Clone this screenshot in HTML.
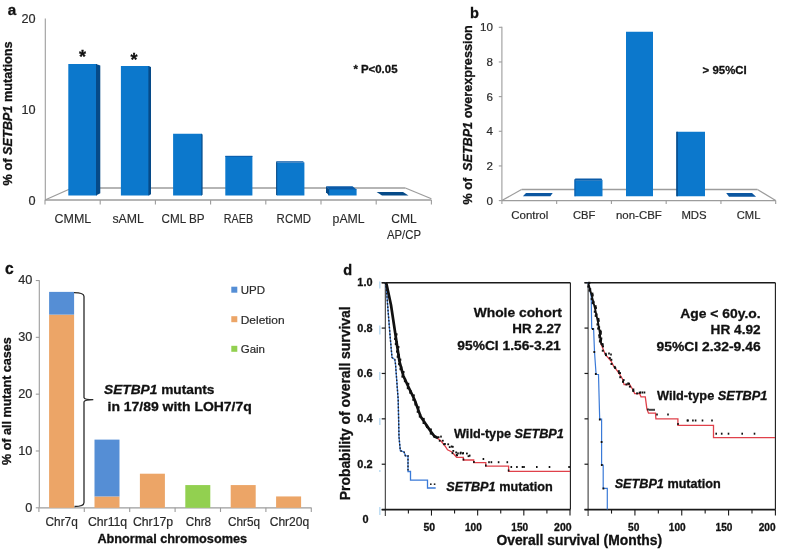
<!DOCTYPE html>
<html><head><meta charset="utf-8"><style>
html,body{margin:0;padding:0;background:#fff;}
svg{display:block;will-change:transform;font-family:"Liberation Sans",sans-serif;}
</style></head><body>
<svg width="785" height="551" viewBox="0 0 785 551">
<rect width="785" height="551" fill="#fff"/>
<text x="7.7" y="14.8" font-size="15.2" font-weight="bold" fill="#111" stroke="#111" stroke-width="0.3">a</text>
<line x1="45.3" y1="18.5" x2="45.3" y2="200" stroke="#9c9c9c" stroke-width="1.1"/>
<text x="35.7" y="23.1" font-size="12.7" text-anchor="end" fill="#2a2a2a" stroke="#2a2a2a" stroke-width="0.2">20</text>
<text x="35.5" y="113.8" font-size="12.7" text-anchor="end" fill="#2a2a2a" stroke="#2a2a2a" stroke-width="0.2">10</text>
<text x="35.5" y="204.5" font-size="12.7" text-anchor="end" fill="#2a2a2a" stroke="#2a2a2a" stroke-width="0.2">0</text>
<text x="11.8" y="185.4" font-size="12.7" font-weight="bold" fill="#111" stroke="#111" stroke-width="0.3" textLength="144" lengthAdjust="spacingAndGlyphs" transform="rotate(-90 11.8 185.4)">% of <tspan font-style="italic">SETBP1</tspan> mutations</text>
<line x1="45" y1="200" x2="431.4" y2="200" stroke="#9c9c9c" stroke-width="1.3"/>
<line x1="72" y1="188" x2="405.4" y2="188" stroke="#9c9c9c" stroke-width="1.3"/>
<line x1="45" y1="200" x2="72" y2="188" stroke="#9c9c9c" stroke-width="1.2"/>
<line x1="405.4" y1="188" x2="431.4" y2="198.8" stroke="#9c9c9c" stroke-width="1.2"/>
<line x1="45.0" y1="200" x2="45.0" y2="204.5" stroke="#9c9c9c" stroke-width="1.1"/>
<line x1="100.2" y1="200" x2="100.2" y2="204.5" stroke="#9c9c9c" stroke-width="1.1"/>
<line x1="155.4" y1="200" x2="155.4" y2="204.5" stroke="#9c9c9c" stroke-width="1.1"/>
<line x1="210.60000000000002" y1="200" x2="210.60000000000002" y2="204.5" stroke="#9c9c9c" stroke-width="1.1"/>
<line x1="265.8" y1="200" x2="265.8" y2="204.5" stroke="#9c9c9c" stroke-width="1.1"/>
<line x1="321.0" y1="200" x2="321.0" y2="204.5" stroke="#9c9c9c" stroke-width="1.1"/>
<line x1="376.20000000000005" y1="200" x2="376.20000000000005" y2="204.5" stroke="#9c9c9c" stroke-width="1.1"/>
<line x1="431.40000000000003" y1="200" x2="431.40000000000003" y2="204.5" stroke="#9c9c9c" stroke-width="1.1"/>
<polygon points="68.3,64 97,64 97,195.5 68.3,195.5" fill="#0c78cc"/>
<polygon points="96,64 100.3,65.6 100.3,193.2 96,195.5" fill="#064a88"/>
<polygon points="120.9,66 149.4,66 149.4,195.5 120.9,195.5" fill="#0c78cc"/>
<polygon points="148.4,66 151,67 151,194.2 148.4,195.5" fill="#064a88"/>
<polygon points="173.1,133.8 202,133.8 202,195.5 173.1,195.5" fill="#0c78cc"/>
<polygon points="201.4,133.8 202.6,134.4 202.6,194.8 201.4,195.5" fill="#064a88"/>
<polygon points="225.3,155.9 252.4,155.9 252.4,195.5 225.3,195.5" fill="#0c78cc"/>
<line x1="225.3" y1="156.3" x2="252.4" y2="156.3" stroke="#0a5aa8" stroke-width="1"/>
<polygon points="276.6,162.4 304.4,162.4 304.4,195.5 276.6,195.5" fill="#0c78cc"/>
<polygon points="276.1,161.2 303,161.2 304.4,162.6 277.2,162.6" fill="#0a5aa8"/>
<polygon points="276.1,161.2 277.2,162.4 277.2,195.5 276.1,194.3" fill="#064a88"/>
<polygon points="328.2,189 356.6,189 356.6,195.5 328.2,195.5" fill="#0c78cc"/>
<polygon points="326,186.3 352.5,186.3 356.6,189.6 329.2,189.6" fill="#0a5aa8"/>
<polygon points="326,186.3 329.2,189.5 329.2,195.5 326,192.3" fill="#064a88"/>
<polygon points="376.6,192 403,192 408.5,195.4 382,195.4" fill="#064a88"/>
<text x="82.5" y="62.5" font-size="18" font-weight="bold" text-anchor="middle" fill="#111" stroke="#111" stroke-width="0.3">*</text>
<text x="134" y="65.7" font-size="18" font-weight="bold" text-anchor="middle" fill="#111" stroke="#111" stroke-width="0.3">*</text>
<text x="353.4" y="72.7" font-size="11.4" font-weight="bold" textLength="44.1" lengthAdjust="spacingAndGlyphs" fill="#111" stroke="#111" stroke-width="0.3">* P&lt;0.05</text>
<text x="54.6" y="222.8" font-size="12.4" textLength="36.7" lengthAdjust="spacingAndGlyphs" fill="#2a2a2a" stroke="#2a2a2a" stroke-width="0.12">CMML</text>
<text x="112.4" y="222.8" font-size="12.4" textLength="31.4" lengthAdjust="spacingAndGlyphs" fill="#2a2a2a" stroke="#2a2a2a" stroke-width="0.12">sAML</text>
<text x="161.6" y="222.8" font-size="12.4" textLength="43.0" lengthAdjust="spacingAndGlyphs" fill="#2a2a2a" stroke="#2a2a2a" stroke-width="0.12">CML BP</text>
<text x="223.8" y="222.8" font-size="12.4" textLength="29.3" lengthAdjust="spacingAndGlyphs" fill="#2a2a2a" stroke="#2a2a2a" stroke-width="0.12">RAEB</text>
<text x="276.6" y="222.8" font-size="12.4" textLength="34.4" lengthAdjust="spacingAndGlyphs" fill="#2a2a2a" stroke="#2a2a2a" stroke-width="0.12">RCMD</text>
<text x="332.6" y="222.8" font-size="12.4" textLength="32.1" lengthAdjust="spacingAndGlyphs" fill="#2a2a2a" stroke="#2a2a2a" stroke-width="0.12">pAML</text>
<text x="391.2" y="222.8" font-size="12.4" textLength="25.5" lengthAdjust="spacingAndGlyphs" fill="#2a2a2a" stroke="#2a2a2a" stroke-width="0.12">CML</text>
<text x="386.9" y="239" font-size="12.4" textLength="34.1" lengthAdjust="spacingAndGlyphs" fill="#2a2a2a" stroke="#2a2a2a" stroke-width="0.12">AP/CP</text>
<text x="470" y="17.8" font-size="14.5" font-weight="bold" fill="#111" stroke="#111" stroke-width="0.3">b</text>
<line x1="501.9" y1="26.8" x2="501.9" y2="200.6" stroke="#9c9c9c" stroke-width="1.1"/>
<line x1="498.8" y1="200.6" x2="501.9" y2="200.6" stroke="#9c9c9c" stroke-width="1.1"/>
<text x="493" y="204.6" font-size="11.6" text-anchor="end" fill="#2a2a2a" stroke="#2a2a2a" stroke-width="0.2">0</text>
<line x1="498.8" y1="165.94" x2="501.9" y2="165.94" stroke="#9c9c9c" stroke-width="1.1"/>
<text x="493" y="169.94" font-size="11.6" text-anchor="end" fill="#2a2a2a" stroke="#2a2a2a" stroke-width="0.2">2</text>
<line x1="498.8" y1="131.28" x2="501.9" y2="131.28" stroke="#9c9c9c" stroke-width="1.1"/>
<text x="493" y="135.28" font-size="11.6" text-anchor="end" fill="#2a2a2a" stroke="#2a2a2a" stroke-width="0.2">4</text>
<line x1="498.8" y1="96.62" x2="501.9" y2="96.62" stroke="#9c9c9c" stroke-width="1.1"/>
<text x="493" y="100.62" font-size="11.6" text-anchor="end" fill="#2a2a2a" stroke="#2a2a2a" stroke-width="0.2">6</text>
<line x1="498.8" y1="61.96000000000001" x2="501.9" y2="61.96000000000001" stroke="#9c9c9c" stroke-width="1.1"/>
<text x="493" y="65.96000000000001" font-size="11.6" text-anchor="end" fill="#2a2a2a" stroke="#2a2a2a" stroke-width="0.2">8</text>
<line x1="498.8" y1="27.30000000000001" x2="501.9" y2="27.30000000000001" stroke="#9c9c9c" stroke-width="1.1"/>
<text x="493" y="31.30000000000001" font-size="11.6" text-anchor="end" fill="#2a2a2a" stroke="#2a2a2a" stroke-width="0.2">10</text>
<text x="472.3" y="204.5" font-size="12.6" font-weight="bold" fill="#111" stroke="#111" stroke-width="0.3" textLength="179.3" lengthAdjust="spacingAndGlyphs" transform="rotate(-90 472.3 204.5)">% of&#160; <tspan font-style="italic">SETBP1</tspan> overexpression</text>
<line x1="501.9" y1="200.6" x2="775.7" y2="200.6" stroke="#9c9c9c" stroke-width="1.3"/>
<line x1="521.5" y1="189.5" x2="757.5" y2="189.5" stroke="#9c9c9c" stroke-width="1.3"/>
<line x1="501.9" y1="200.6" x2="521.5" y2="189.5" stroke="#9c9c9c" stroke-width="1.2"/>
<line x1="757.5" y1="189.5" x2="775.7" y2="200.6" stroke="#9c9c9c" stroke-width="1.2"/>
<line x1="501.9" y1="200.6" x2="501.9" y2="204" stroke="#9c9c9c" stroke-width="1.1"/>
<line x1="556.66" y1="200.6" x2="556.66" y2="204" stroke="#9c9c9c" stroke-width="1.1"/>
<line x1="611.42" y1="200.6" x2="611.42" y2="204" stroke="#9c9c9c" stroke-width="1.1"/>
<line x1="666.18" y1="200.6" x2="666.18" y2="204" stroke="#9c9c9c" stroke-width="1.1"/>
<line x1="720.9399999999999" y1="200.6" x2="720.9399999999999" y2="204" stroke="#9c9c9c" stroke-width="1.1"/>
<line x1="775.7" y1="200.6" x2="775.7" y2="204" stroke="#9c9c9c" stroke-width="1.1"/>
<polygon points="526,192.9 552.7,192.9 550.4,196.3 522.9,196.3" fill="#0b56a0"/>
<polygon points="574.5,180.3 602.5,180.3 602.5,196.3 574.5,196.3" fill="#0c78cc"/>
<polygon points="575.5,178.6 601.5,178.6 602.5,180.5 574.5,180.5" fill="#0a5aa8"/>
<polygon points="574.5,179.6 575.5,178.6 575.5,196.3 574.5,196.3" fill="#0a5aa8"/>
<polygon points="626,31.8 653,31.8 653,196.2 626,196.2" fill="#0c78cc"/>
<polygon points="676.7,131.8 705,131.8 705,196.2 676.7,196.2" fill="#0c78cc"/>
<polygon points="676.2,131.8 677.8,131.8 677.8,196.2 676.2,196.2" fill="#064a88"/>
<polygon points="726.2,193.1 752,193.1 756.1,196.7 729,196.7" fill="#0b56a0"/>
<text x="511.3" y="219.2" font-size="11.6" textLength="37.0" lengthAdjust="spacingAndGlyphs" fill="#2a2a2a" stroke="#2a2a2a" stroke-width="0.2">Control</text>
<text x="573" y="219.2" font-size="11.6" textLength="22.4" lengthAdjust="spacingAndGlyphs" fill="#2a2a2a" stroke="#2a2a2a" stroke-width="0.2">CBF</text>
<text x="616" y="219.2" font-size="11.6" textLength="45.8" lengthAdjust="spacingAndGlyphs" fill="#2a2a2a" stroke="#2a2a2a" stroke-width="0.2">non-CBF</text>
<text x="681.4" y="219.2" font-size="11.6" textLength="25.2" lengthAdjust="spacingAndGlyphs" fill="#2a2a2a" stroke="#2a2a2a" stroke-width="0.2">MDS</text>
<text x="736.8" y="219.2" font-size="11.6" textLength="23.6" lengthAdjust="spacingAndGlyphs" fill="#2a2a2a" stroke="#2a2a2a" stroke-width="0.2">CML</text>
<text x="702.6" y="74.3" font-size="11.6" font-weight="bold" textLength="44.1" lengthAdjust="spacingAndGlyphs" fill="#111" stroke="#111" stroke-width="0.3">&gt; 95%CI</text>
<text x="5.1" y="274" font-size="15.6" font-weight="bold" fill="#111" stroke="#111" stroke-width="0.3">c</text>
<line x1="39.3" y1="280.3" x2="39.3" y2="507.8" stroke="#9c9c9c" stroke-width="1.1"/>
<line x1="35.8" y1="507.8" x2="39.3" y2="507.8" stroke="#9c9c9c" stroke-width="1.1"/>
<text x="32.3" y="511.5" font-size="12.7" text-anchor="end" fill="#2a2a2a" stroke="#2a2a2a" stroke-width="0.2">0</text>
<line x1="35.8" y1="450.98" x2="39.3" y2="450.98" stroke="#9c9c9c" stroke-width="1.1"/>
<text x="32.3" y="454.68" font-size="12.7" text-anchor="end" fill="#2a2a2a" stroke="#2a2a2a" stroke-width="0.2">10</text>
<line x1="35.8" y1="394.15999999999997" x2="39.3" y2="394.15999999999997" stroke="#9c9c9c" stroke-width="1.1"/>
<text x="32.3" y="397.85999999999996" font-size="12.7" text-anchor="end" fill="#2a2a2a" stroke="#2a2a2a" stroke-width="0.2">20</text>
<line x1="35.8" y1="337.34000000000003" x2="39.3" y2="337.34000000000003" stroke="#9c9c9c" stroke-width="1.1"/>
<text x="32.3" y="341.04" font-size="12.7" text-anchor="end" fill="#2a2a2a" stroke="#2a2a2a" stroke-width="0.2">30</text>
<line x1="35.8" y1="280.52" x2="39.3" y2="280.52" stroke="#9c9c9c" stroke-width="1.1"/>
<text x="32.3" y="284.21999999999997" font-size="12.7" text-anchor="end" fill="#2a2a2a" stroke="#2a2a2a" stroke-width="0.2">40</text>
<line x1="39.3" y1="507.8" x2="311.5" y2="507.8" stroke="#9c9c9c" stroke-width="1.2"/>
<line x1="38.9" y1="507.8" x2="38.9" y2="512" stroke="#9c9c9c" stroke-width="1.1"/>
<line x1="84.3" y1="507.8" x2="84.3" y2="512" stroke="#9c9c9c" stroke-width="1.1"/>
<line x1="129.7" y1="507.8" x2="129.7" y2="512" stroke="#9c9c9c" stroke-width="1.1"/>
<line x1="175.1" y1="507.8" x2="175.1" y2="512" stroke="#9c9c9c" stroke-width="1.1"/>
<line x1="220.5" y1="507.8" x2="220.5" y2="512" stroke="#9c9c9c" stroke-width="1.1"/>
<line x1="265.9" y1="507.8" x2="265.9" y2="512" stroke="#9c9c9c" stroke-width="1.1"/>
<line x1="311.29999999999995" y1="507.8" x2="311.29999999999995" y2="512" stroke="#9c9c9c" stroke-width="1.1"/>
<rect x="49.099999999999994" y="314.61199999999997" width="25" height="193.18800000000002" fill="#eca567"/>
<rect x="49.099999999999994" y="291.884" width="25" height="22.728" fill="#558ed5"/>
<rect x="94.5" y="496.43600000000004" width="25" height="11.364" fill="#eca567"/>
<rect x="94.5" y="439.616" width="25" height="56.82000000000001" fill="#558ed5"/>
<rect x="139.9" y="473.708" width="25" height="34.092" fill="#eca567"/>
<rect x="185.3" y="485.072" width="25" height="22.728" fill="#92d050"/>
<rect x="230.7" y="485.072" width="25" height="22.728" fill="#eca567"/>
<rect x="276.09999999999997" y="496.43600000000004" width="25" height="11.364" fill="#eca567"/>
<text x="11.3" y="465" font-size="12.6" font-weight="bold" fill="#111" stroke="#111" stroke-width="0.3" textLength="127.8" lengthAdjust="spacingAndGlyphs" transform="rotate(-90 11.3 465)">% of all mutant cases</text>
<text x="45.5" y="526" font-size="12" textLength="32.3" lengthAdjust="spacingAndGlyphs" fill="#2a2a2a" stroke="#2a2a2a" stroke-width="0.2">Chr7q</text>
<text x="87.9" y="526" font-size="12" textLength="39.3" lengthAdjust="spacingAndGlyphs" fill="#2a2a2a" stroke="#2a2a2a" stroke-width="0.2">Chr11q</text>
<text x="132.9" y="526" font-size="12" textLength="40.2" lengthAdjust="spacingAndGlyphs" fill="#2a2a2a" stroke="#2a2a2a" stroke-width="0.2">Chr17p</text>
<text x="185.7" y="526" font-size="12" textLength="25.4" lengthAdjust="spacingAndGlyphs" fill="#2a2a2a" stroke="#2a2a2a" stroke-width="0.2">Chr8</text>
<text x="228" y="526" font-size="12" textLength="32" lengthAdjust="spacingAndGlyphs" fill="#2a2a2a" stroke="#2a2a2a" stroke-width="0.2">Chr5q</text>
<text x="269.7" y="526" font-size="12" textLength="39.5" lengthAdjust="spacingAndGlyphs" fill="#2a2a2a" stroke="#2a2a2a" stroke-width="0.2">Chr20q</text>
<text x="97.4" y="543.4" font-size="12.9" font-weight="bold" textLength="149.7" lengthAdjust="spacingAndGlyphs" fill="#111" stroke="#111" stroke-width="0.3">Abnormal chromosomes</text>
<rect x="231.3" y="286.7" width="6" height="6" fill="#558ed5"/>
<rect x="231.3" y="316.2" width="6" height="6" fill="#eca567"/>
<rect x="231.3" y="345.8" width="6" height="6" fill="#92d050"/>
<text x="240.7" y="293.9" font-size="11.8" textLength="24.3" lengthAdjust="spacingAndGlyphs" fill="#2a2a2a" stroke="#2a2a2a" stroke-width="0.2">UPD</text>
<text x="240.7" y="323.6" font-size="11.8" textLength="43.9" lengthAdjust="spacingAndGlyphs" fill="#2a2a2a" stroke="#2a2a2a" stroke-width="0.2">Deletion</text>
<text x="240.7" y="353.3" font-size="11.8" textLength="24.3" lengthAdjust="spacingAndGlyphs" fill="#2a2a2a" stroke="#2a2a2a" stroke-width="0.2">Gain</text>
<path d="M74,292.6 Q84,292.6 84,296.5 L84,397.6 Q84.5,399.7 93.3,399.7 Q84.5,399.7 84,401.8 L84,502.5 Q84,506.5 74.5,506.5" fill="none" stroke="#2a2a2a" stroke-width="1.3"/>
<text x="104" y="394" font-size="13" font-weight="bold" fill="#111" stroke="#111" stroke-width="0.3" textLength="110.5" lengthAdjust="spacingAndGlyphs"><tspan font-style="italic">SETBP1</tspan> mutants</text>
<text x="107.5" y="410.8" font-size="13" font-weight="bold" textLength="144.3" lengthAdjust="spacingAndGlyphs" fill="#111" stroke="#111" stroke-width="0.3">in 17/89 with LOH7/7q</text>
<text x="343.2" y="274.9" font-size="14.5" font-weight="bold" fill="#111" stroke="#111" stroke-width="0.3">d</text>
<text x="349.8" y="500.3" font-size="13.9" font-weight="bold" fill="#111" stroke="#111" stroke-width="0.3" textLength="194" lengthAdjust="spacingAndGlyphs" transform="rotate(-90 349.8 500.3)">Probability of overall survival</text>
<text x="372.5" y="467.82000000000005" font-size="10.9" font-weight="bold" text-anchor="end" fill="#111" stroke="#111" stroke-width="0.3">0.2</text>
<text x="372.5" y="422.44000000000005" font-size="10.9" font-weight="bold" text-anchor="end" fill="#111" stroke="#111" stroke-width="0.3">0.4</text>
<text x="372.5" y="377.06000000000006" font-size="10.9" font-weight="bold" text-anchor="end" fill="#111" stroke="#111" stroke-width="0.3">0.6</text>
<text x="372.5" y="331.68000000000006" font-size="10.9" font-weight="bold" text-anchor="end" fill="#111" stroke="#111" stroke-width="0.3">0.8</text>
<text x="372.5" y="286.30000000000007" font-size="10.9" font-weight="bold" text-anchor="end" fill="#111" stroke="#111" stroke-width="0.3">1.0</text>
<text x="362.4" y="522.7" font-size="10.9" font-weight="bold" fill="#111" stroke="#111" stroke-width="0.3">0</text>
<line x1="385.3" y1="282.7" x2="385.3" y2="516" stroke="#2a2a2a" stroke-width="1"/>
<line x1="381.7" y1="282.7" x2="570.4" y2="282.7" stroke="#1a1a1a" stroke-width="1.4"/>
<line x1="570.4" y1="282.7" x2="570.4" y2="509.6" stroke="#1a1a1a" stroke-width="1.1"/>
<line x1="381.7" y1="509.6" x2="570.4" y2="509.6" stroke="#1a1a1a" stroke-width="1.7"/>
<line x1="381.7" y1="509.6" x2="385.3" y2="509.6" stroke="#1a1a1a" stroke-width="1.2"/>
<line x1="381.7" y1="464.22" x2="385.3" y2="464.22" stroke="#1a1a1a" stroke-width="1.2"/>
<line x1="381.7" y1="418.84000000000003" x2="385.3" y2="418.84000000000003" stroke="#1a1a1a" stroke-width="1.2"/>
<line x1="381.7" y1="373.46000000000004" x2="385.3" y2="373.46000000000004" stroke="#1a1a1a" stroke-width="1.2"/>
<line x1="381.7" y1="328.08000000000004" x2="385.3" y2="328.08000000000004" stroke="#1a1a1a" stroke-width="1.2"/>
<line x1="381.7" y1="282.70000000000005" x2="385.3" y2="282.70000000000005" stroke="#1a1a1a" stroke-width="1.2"/>
<line x1="408.3875" y1="509.6" x2="408.3875" y2="513.6" stroke="#1a1a1a" stroke-width="1.1"/>
<line x1="431.475" y1="509.6" x2="431.475" y2="515.6" stroke="#1a1a1a" stroke-width="1.1"/>
<line x1="454.5625" y1="509.6" x2="454.5625" y2="513.6" stroke="#1a1a1a" stroke-width="1.1"/>
<line x1="477.65" y1="509.6" x2="477.65" y2="515.6" stroke="#1a1a1a" stroke-width="1.1"/>
<line x1="500.7375" y1="509.6" x2="500.7375" y2="513.6" stroke="#1a1a1a" stroke-width="1.1"/>
<line x1="523.825" y1="509.6" x2="523.825" y2="515.6" stroke="#1a1a1a" stroke-width="1.1"/>
<line x1="546.9125" y1="509.6" x2="546.9125" y2="513.6" stroke="#1a1a1a" stroke-width="1.1"/>
<line x1="570.0" y1="509.6" x2="570.0" y2="515.6" stroke="#1a1a1a" stroke-width="1.1"/>
<line x1="588.1" y1="282.7" x2="588.1" y2="516" stroke="#2a2a2a" stroke-width="1"/>
<line x1="584.5" y1="282.7" x2="775.4" y2="282.7" stroke="#1a1a1a" stroke-width="1.4"/>
<line x1="775.4" y1="282.7" x2="775.4" y2="509.6" stroke="#1a1a1a" stroke-width="1.1"/>
<line x1="584.5" y1="509.6" x2="775.4" y2="509.6" stroke="#1a1a1a" stroke-width="1.7"/>
<line x1="584.5" y1="509.6" x2="588.1" y2="509.6" stroke="#1a1a1a" stroke-width="1.2"/>
<line x1="584.5" y1="464.22" x2="588.1" y2="464.22" stroke="#1a1a1a" stroke-width="1.2"/>
<line x1="584.5" y1="418.84000000000003" x2="588.1" y2="418.84000000000003" stroke="#1a1a1a" stroke-width="1.2"/>
<line x1="584.5" y1="373.46000000000004" x2="588.1" y2="373.46000000000004" stroke="#1a1a1a" stroke-width="1.2"/>
<line x1="584.5" y1="328.08000000000004" x2="588.1" y2="328.08000000000004" stroke="#1a1a1a" stroke-width="1.2"/>
<line x1="584.5" y1="282.70000000000005" x2="588.1" y2="282.70000000000005" stroke="#1a1a1a" stroke-width="1.2"/>
<line x1="611.5125" y1="509.6" x2="611.5125" y2="513.6" stroke="#1a1a1a" stroke-width="1.1"/>
<line x1="634.9250000000001" y1="509.6" x2="634.9250000000001" y2="515.6" stroke="#1a1a1a" stroke-width="1.1"/>
<line x1="658.3375" y1="509.6" x2="658.3375" y2="513.6" stroke="#1a1a1a" stroke-width="1.1"/>
<line x1="681.75" y1="509.6" x2="681.75" y2="515.6" stroke="#1a1a1a" stroke-width="1.1"/>
<line x1="705.1625" y1="509.6" x2="705.1625" y2="513.6" stroke="#1a1a1a" stroke-width="1.1"/>
<line x1="728.575" y1="509.6" x2="728.575" y2="515.6" stroke="#1a1a1a" stroke-width="1.1"/>
<line x1="751.9875" y1="509.6" x2="751.9875" y2="513.6" stroke="#1a1a1a" stroke-width="1.1"/>
<line x1="775.4000000000001" y1="509.6" x2="775.4000000000001" y2="515.6" stroke="#1a1a1a" stroke-width="1.1"/>
<text x="423.4" y="530.9" font-size="10.4" font-weight="bold" textLength="11.6" lengthAdjust="spacingAndGlyphs" fill="#111" stroke="#111" stroke-width="0.3">50</text>
<text x="465" y="530.9" font-size="10.4" font-weight="bold" textLength="16.8" lengthAdjust="spacingAndGlyphs" fill="#111" stroke="#111" stroke-width="0.3">100</text>
<text x="511.3" y="530.9" font-size="10.4" font-weight="bold" textLength="16.8" lengthAdjust="spacingAndGlyphs" fill="#111" stroke="#111" stroke-width="0.3">150</text>
<text x="554.1" y="530.9" font-size="10.4" font-weight="bold" textLength="17.5" lengthAdjust="spacingAndGlyphs" fill="#111" stroke="#111" stroke-width="0.3">200</text>
<text x="628" y="530.9" font-size="10.4" font-weight="bold" textLength="11.3" lengthAdjust="spacingAndGlyphs" fill="#111" stroke="#111" stroke-width="0.3">50</text>
<text x="668.8" y="530.9" font-size="10.4" font-weight="bold" textLength="16.8" lengthAdjust="spacingAndGlyphs" fill="#111" stroke="#111" stroke-width="0.3">100</text>
<text x="715.6" y="530.9" font-size="10.4" font-weight="bold" textLength="16.8" lengthAdjust="spacingAndGlyphs" fill="#111" stroke="#111" stroke-width="0.3">150</text>
<text x="758.7" y="530.9" font-size="10.4" font-weight="bold" textLength="16.8" lengthAdjust="spacingAndGlyphs" fill="#111" stroke="#111" stroke-width="0.3">200</text>
<text x="496.4" y="545.3" font-size="13.9" font-weight="bold" textLength="165.8" lengthAdjust="spacingAndGlyphs" fill="#111" stroke="#111" stroke-width="0.3">Overall survival (Months)</text>
<text x="473.7" y="316.6" font-size="13.7" font-weight="bold" textLength="88.3" lengthAdjust="spacingAndGlyphs" fill="#111" stroke="#111" stroke-width="0.3">Whole cohort</text>
<text x="512.3" y="333.3" font-size="13.7" font-weight="bold" textLength="49" lengthAdjust="spacingAndGlyphs" fill="#111" stroke="#111" stroke-width="0.3">HR 2.27</text>
<text x="457.3" y="350.1" font-size="13.7" font-weight="bold" textLength="103.5" lengthAdjust="spacingAndGlyphs" fill="#111" stroke="#111" stroke-width="0.3">95%CI 1.56-3.21</text>
<text x="680.3" y="318" font-size="13.7" font-weight="bold" textLength="80.3" lengthAdjust="spacingAndGlyphs" fill="#111" stroke="#111" stroke-width="0.3">Age &lt; 60y.o.</text>
<text x="710.6" y="334" font-size="13.7" font-weight="bold" textLength="50" lengthAdjust="spacingAndGlyphs" fill="#111" stroke="#111" stroke-width="0.3">HR 4.92</text>
<text x="656.5" y="350.8" font-size="13.7" font-weight="bold" textLength="104.1" lengthAdjust="spacingAndGlyphs" fill="#111" stroke="#111" stroke-width="0.3">95%CI 2.32-9.46</text>
<text x="454" y="437.5" font-size="12.7" font-weight="bold" fill="#111" stroke="#111" stroke-width="0.3" textLength="109.9" lengthAdjust="spacingAndGlyphs">Wild-type <tspan font-style="italic">SETBP1</tspan></text>
<text x="446.3" y="491" font-size="12.7" font-weight="bold" fill="#111" stroke="#111" stroke-width="0.3" textLength="106.4" lengthAdjust="spacingAndGlyphs"><tspan font-style="italic">SETBP1</tspan> mutation</text>
<text x="657" y="400.2" font-size="12.7" font-weight="bold" fill="#111" stroke="#111" stroke-width="0.3" textLength="110.4" lengthAdjust="spacingAndGlyphs">Wild-type <tspan font-style="italic">SETBP1</tspan></text>
<text x="614.7" y="487.7" font-size="12.7" font-weight="bold" fill="#111" stroke="#111" stroke-width="0.3" textLength="106.1" lengthAdjust="spacingAndGlyphs"><tspan font-style="italic">SETBP1</tspan> mutation</text>
<polyline points="385.5,282.7 386.5,290 388,310 390,335 392,357.5 394.8,359.5 395.5,364 398.2,400 399,436.7 400.3,450.7 404.1,452 405.4,455.8 408,455.8 408,471.5 410.5,471.5 410.5,480.2 427.5,480.2 427.5,488 435.7,488" fill="none" stroke="#3a7ad8" stroke-width="1.3"/>
<polyline points="385.5,282.7 386.5,290 388,310 390,335 392,357.5 394.8,359.5 395.5,364 398.2,400 399,436.7 400.3,450.7 404.1,452 405.4,455.8 408,455.8 408,471.5" fill="none" stroke="#222" stroke-width="1.4" stroke-dasharray="1.6,1.8"/>
<rect x="430" y="483.4" width="1.6" height="1.6" fill="#222"/><rect x="433.8" y="483.4" width="1.6" height="1.6" fill="#222"/>
<polyline points="436,437 441,441 445,446 447.5,449.8 452,452 456.6,457.3 463.3,457.3 463.3,460 473.7,460 473.7,462.6 485.8,462.6 485.8,466.2 508.6,466.2 508.6,471.4 570,471.4" fill="none" stroke="#e0404a" stroke-width="1.3"/>
<polyline points="385.5,282.7 386.5,284 391,305 395.5,335 399.5,361.7 403.3,375.7 408,386 414.7,400 420.6,416.4 425.7,424 430.8,431.6 434.6,436.5 438,438" fill="none" stroke="#111" stroke-width="2.7" stroke-linejoin="round"/>
<rect x="395.3" y="333.3" width="2.2" height="2.2" fill="#111"/>
<rect x="394.1" y="337.8" width="2.2" height="2.2" fill="#111"/>
<rect x="395.7" y="341.2" width="2.2" height="2.2" fill="#111"/>
<rect x="394.8" y="342.9" width="2.2" height="2.2" fill="#111"/>
<rect x="397.2" y="346.0" width="2.2" height="2.2" fill="#111"/>
<rect x="396.0" y="350.4" width="2.2" height="2.2" fill="#111"/>
<rect x="397.6" y="353.9" width="2.2" height="2.2" fill="#111"/>
<rect x="396.7" y="355.6" width="2.2" height="2.2" fill="#111"/>
<rect x="399.1" y="358.6" width="2.2" height="2.2" fill="#111"/>
<rect x="398.1" y="363.0" width="2.2" height="2.2" fill="#111"/>
<rect x="400.1" y="366.4" width="2.2" height="2.2" fill="#111"/>
<rect x="399.5" y="368.0" width="2.2" height="2.2" fill="#111"/>
<rect x="402.3" y="371.0" width="2.2" height="2.2" fill="#111"/>
<rect x="401.4" y="375.4" width="2.2" height="2.2" fill="#111"/>
<rect x="404.0" y="378.6" width="2.2" height="2.2" fill="#111"/>
<rect x="403.9" y="380.0" width="2.2" height="2.2" fill="#111"/>
<rect x="407.1" y="382.8" width="2.2" height="2.2" fill="#111"/>
<rect x="406.8" y="387.0" width="2.2" height="2.2" fill="#111"/>
<rect x="409.4" y="390.2" width="2.2" height="2.2" fill="#111"/>
<rect x="409.3" y="391.6" width="2.2" height="2.2" fill="#111"/>
<rect x="412.6" y="394.4" width="2.2" height="2.2" fill="#111"/>
<rect x="412.3" y="398.6" width="2.2" height="2.2" fill="#111"/>
<rect x="414.7" y="401.8" width="2.2" height="2.2" fill="#111"/>
<rect x="414.4" y="403.3" width="2.2" height="2.2" fill="#111"/>
<rect x="417.4" y="406.3" width="2.2" height="2.2" fill="#111"/>
<rect x="416.7" y="410.6" width="2.2" height="2.2" fill="#111"/>
<rect x="419.0" y="413.9" width="2.2" height="2.2" fill="#111"/>
<rect x="418.8" y="415.3" width="2.2" height="2.2" fill="#111"/>
<rect x="422.5" y="417.9" width="2.2" height="2.2" fill="#111"/>
<rect x="422.6" y="421.8" width="2.2" height="2.2" fill="#111"/>
<rect x="425.6" y="424.8" width="2.2" height="2.2" fill="#111"/>
<rect x="426.0" y="425.9" width="2.2" height="2.2" fill="#111"/>
<rect x="429.7" y="428.5" width="2.2" height="2.2" fill="#111"/>
<rect x="429.8" y="432.4" width="2.2" height="2.2" fill="#111"/>
<rect x="433.0" y="435.2" width="2.2" height="2.2" fill="#111"/>
<rect x="434.1" y="435.6" width="2.2" height="2.2" fill="#111"/>
<rect x="437.7" y="436.3" width="1.8" height="1.8" fill="#111"/>
<rect x="438.8" y="439.9" width="1.8" height="1.8" fill="#111"/>
<rect x="441.9" y="439.8" width="1.8" height="1.8" fill="#111"/>
<rect x="443.1" y="443.3" width="1.8" height="1.8" fill="#111"/>
<rect x="447.3" y="443.4" width="1.8" height="1.8" fill="#111"/>
<rect x="448.8" y="446.2" width="1.8" height="1.8" fill="#111"/>
<rect x="451.9" y="445.9" width="1.8" height="1.8" fill="#111"/>
<rect x="452.4" y="450.0" width="1.8" height="1.8" fill="#111"/>
<rect x="455.3" y="451.5" width="1.8" height="1.8" fill="#111"/>
<rect x="456.2" y="454.4" width="1.8" height="1.8" fill="#111"/>
<rect x="459.9" y="451.7" width="1.8" height="1.8" fill="#111"/>
<rect x="461.8" y="452.6" width="1.8" height="1.8" fill="#111"/>
<rect x="466.0" y="452.6" width="1.8" height="1.8" fill="#111"/>
<rect x="467.6" y="455.3" width="1.8" height="1.8" fill="#111"/>
<rect x="440.2" y="435.6" width="1.6" height="2" fill="#111"/>
<rect x="444.2" y="443" width="1.6" height="2" fill="#111"/>
<rect x="450.8" y="445.5" width="1.6" height="2" fill="#111"/>
<rect x="451.6" y="452.1" width="1.6" height="2" fill="#111"/>
<rect x="455.8" y="453.8" width="1.6" height="2" fill="#111"/>
<rect x="457.2" y="452.4" width="1.6" height="2" fill="#111"/>
<rect x="459.6" y="452.4" width="1.6" height="2" fill="#111"/>
<rect x="462.4" y="452.1" width="1.6" height="2" fill="#111"/>
<rect x="468.9" y="454.6" width="1.6" height="2" fill="#111"/>
<rect x="462.7" y="458.5" width="1.6" height="2" fill="#111"/>
<rect x="473.1" y="461" width="1.6" height="2" fill="#111"/>
<rect x="482.6" y="458" width="1.6" height="2" fill="#111"/>
<rect x="485.0" y="464.5" width="1.6" height="2" fill="#111"/>
<rect x="488.2" y="461.2" width="1.6" height="2" fill="#111"/>
<rect x="490.6" y="461.2" width="1.6" height="2" fill="#111"/>
<rect x="497.8" y="461.2" width="1.6" height="2" fill="#111"/>
<rect x="506.5" y="461.2" width="1.6" height="2" fill="#111"/>
<rect x="507.8" y="469.5" width="1.6" height="2" fill="#111"/>
<rect x="510.5" y="466" width="1.6" height="2" fill="#111"/>
<rect x="516.1" y="466" width="1.6" height="2" fill="#111"/>
<rect x="521.7" y="466" width="1.6" height="2" fill="#111"/>
<rect x="523.2" y="466" width="1.6" height="2" fill="#111"/>
<rect x="536.0" y="466" width="1.6" height="2" fill="#111"/>
<rect x="548.7" y="466" width="1.6" height="2" fill="#111"/>
<rect x="568.3" y="466" width="1.6" height="2" fill="#111"/>
<polyline points="588.1,282.7 591.2,296 591.7,328.5 593.6,328.5 594.5,352 596.1,374.5 598.5,374.5 599.7,419.2 601.6,419.2 601.6,465 603.2,465 603.2,488.3 607.3,488.3 607.3,509.6" fill="none" stroke="#3a7ad8" stroke-width="1.2"/>
<rect x="591.9" y="328" width="1.8" height="2" fill="#111"/>
<rect x="593.4" y="351" width="1.8" height="2" fill="#111"/>
<rect x="594.9" y="373" width="1.8" height="2" fill="#111"/>
<rect x="598.9" y="418.5" width="1.8" height="2" fill="#111"/>
<rect x="600.7" y="441" width="1.8" height="2" fill="#111"/>
<rect x="600.9" y="464" width="1.8" height="2" fill="#111"/>
<rect x="602.5" y="487.5" width="1.8" height="2" fill="#111"/>
<polyline points="599.6,331.6 601.3,344.7 605.3,354.5 611,361 613.5,365.9 618.4,372.4 622.5,378.9 624.1,384.6 629.8,384.6 632.3,388.7 634.7,393.6 639.6,393.6 641,396.8 645.3,396.8 646.9,409.1 648.5,413.2 655.5,413.2 655.9,418.9 677.9,418.9 677.9,425.4 713.5,425.4 713.5,437.7 775,437.7" fill="none" stroke="#e0404a" stroke-width="1.3"/>
<polyline points="588.4,283.4 591.7,295.4 595,308.5 598.3,323.8 599.6,331.6 601.3,344.7" fill="none" stroke="#111" stroke-width="1.8" stroke-linejoin="round"/>
<rect x="588.1" y="281.8" width="2.2" height="2.2" fill="#111"/>
<rect x="587.3" y="285.4" width="2.2" height="2.2" fill="#111"/>
<rect x="589.0" y="288.2" width="2.2" height="2.2" fill="#111"/>
<rect x="588.5" y="289.4" width="2.2" height="2.2" fill="#111"/>
<rect x="591.2" y="292.6" width="2.2" height="2.2" fill="#111"/>
<rect x="591.5" y="294.3" width="2.2" height="2.2" fill="#111"/>
<rect x="590.7" y="298.0" width="2.2" height="2.2" fill="#111"/>
<rect x="592.3" y="300.8" width="2.2" height="2.2" fill="#111"/>
<rect x="591.7" y="302.0" width="2.2" height="2.2" fill="#111"/>
<rect x="594.4" y="305.2" width="2.2" height="2.2" fill="#111"/>
<rect x="594.7" y="306.9" width="2.2" height="2.2" fill="#111"/>
<rect x="593.8" y="310.6" width="2.2" height="2.2" fill="#111"/>
<rect x="595.3" y="313.4" width="2.2" height="2.2" fill="#111"/>
<rect x="594.7" y="314.7" width="2.2" height="2.2" fill="#111"/>
<rect x="597.2" y="317.9" width="2.2" height="2.2" fill="#111"/>
<rect x="597.5" y="319.7" width="2.2" height="2.2" fill="#111"/>
<rect x="596.5" y="323.3" width="2.2" height="2.2" fill="#111"/>
<rect x="597.9" y="326.2" width="2.2" height="2.2" fill="#111"/>
<rect x="597.2" y="327.4" width="2.2" height="2.2" fill="#111"/>
<rect x="599.6" y="330.7" width="2.2" height="2.2" fill="#111"/>
<rect x="599.6" y="332.5" width="2.2" height="2.2" fill="#111"/>
<rect x="598.5" y="336.1" width="2.2" height="2.2" fill="#111"/>
<rect x="599.8" y="339.0" width="2.2" height="2.2" fill="#111"/>
<rect x="598.9" y="340.3" width="2.2" height="2.2" fill="#111"/>
<rect x="601.3" y="343.6" width="2.2" height="2.2" fill="#111"/>
<rect x="599.2" y="329.7" width="2" height="2" fill="#111"/>
<rect x="598.2" y="334.3" width="2" height="2" fill="#111"/>
<rect x="600.3" y="337.5" width="2" height="2" fill="#111"/>
<rect x="599.3" y="339.3" width="2" height="2" fill="#111"/>
<rect x="601.4" y="343.1" width="2" height="2" fill="#111"/>
<rect x="602.0" y="345.4" width="2" height="2" fill="#111"/>
<rect x="601.8" y="349.7" width="2" height="2" fill="#111"/>
<rect x="604.7" y="352.8" width="2" height="2" fill="#111"/>
<rect x="605.0" y="354.1" width="2" height="2" fill="#111"/>
<rect x="608.8" y="357.1" width="2" height="2" fill="#111"/>
<rect x="610.3" y="358.8" width="2" height="2" fill="#111"/>
<rect x="610.5" y="363.0" width="2" height="2" fill="#111"/>
<rect x="613.7" y="365.9" width="2" height="2" fill="#111"/>
<rect x="614.2" y="367.0" width="2" height="2" fill="#111"/>
<rect x="617.8" y="370.2" width="2" height="2" fill="#111"/>
<rect x="619.0" y="372.1" width="2" height="2" fill="#111"/>
<rect x="619.3" y="376.2" width="2" height="2" fill="#111"/>
<rect x="622.6" y="379.1" width="2" height="2" fill="#111"/>
<rect x="622.0" y="380.8" width="2" height="2" fill="#111"/>
<rect x="625.4" y="383.4" width="2" height="2" fill="#111"/>
<rect x="628.0" y="382.7" width="2" height="2" fill="#111"/>
<rect x="628.9" y="385.6" width="2" height="2" fill="#111"/>
<rect x="632.3" y="388.5" width="2" height="2" fill="#111"/>
<rect x="632.3" y="390.0" width="2" height="2" fill="#111"/>
<rect x="636.1" y="392.4" width="2" height="2" fill="#111"/>
<rect x="638.7" y="391.7" width="2" height="2" fill="#111"/>
<rect x="686.6" y="419.5" width="1.6" height="2" fill="#111"/>
<rect x="692.1" y="419.5" width="1.6" height="2" fill="#111"/>
<rect x="694.8" y="419.5" width="1.6" height="2" fill="#111"/>
<rect x="701.7" y="419.5" width="1.6" height="2" fill="#111"/>
<rect x="711.2" y="419.5" width="1.6" height="2" fill="#111"/>
<rect x="715.4" y="432.7" width="1.6" height="2" fill="#111"/>
<rect x="720.9" y="432.7" width="1.6" height="2" fill="#111"/>
<rect x="727.7" y="432.7" width="1.6" height="2" fill="#111"/>
<rect x="741.4" y="432.7" width="1.6" height="2" fill="#111"/>
<rect x="753.7" y="432.7" width="1.6" height="2" fill="#111"/>
<rect x="608.2" y="352.5" width="1.6" height="2" fill="#111"/>
<rect x="610.2" y="353.5" width="1.6" height="2" fill="#111"/>
<rect x="627.2" y="382.5" width="1.6" height="2" fill="#111"/>
<rect x="639.7" y="391.5" width="1.6" height="2" fill="#111"/>
<rect x="641.7" y="391.5" width="1.6" height="2" fill="#111"/>
<rect x="643.7" y="391.5" width="1.6" height="2" fill="#111"/>
<rect x="647.2" y="408.5" width="1.6" height="2" fill="#111"/>
<rect x="649.2" y="408.8" width="1.6" height="2" fill="#111"/>
<rect x="651.2" y="408.8" width="1.6" height="2" fill="#111"/>
<rect x="653.2" y="408.8" width="1.6" height="2" fill="#111"/>
<rect x="656.2" y="413.5" width="1.6" height="2" fill="#111"/>
<rect x="667.2" y="413.5" width="1.6" height="2" fill="#111"/>
<rect x="677.2" y="423" width="1.6" height="2" fill="#111"/>
<rect x="687.2" y="419.5" width="1.6" height="2" fill="#111"/>
<rect x="618.2" y="372" width="1.6" height="2" fill="#111"/>
<rect x="379" y="281.5" width="1.6" height="7" fill="#c0def4"/>
<rect x="379" y="325.5" width="1.6" height="9" fill="#c0def4"/>
<rect x="379" y="372" width="1.6" height="8" fill="#c0def4"/>
<rect x="379" y="418" width="1.6" height="7" fill="#c0def4"/>
<rect x="379" y="470" width="1.6" height="2" fill="#c0def4"/>
<rect x="379" y="507" width="1.6" height="8" fill="#c0def4"/>
</svg></body></html>
